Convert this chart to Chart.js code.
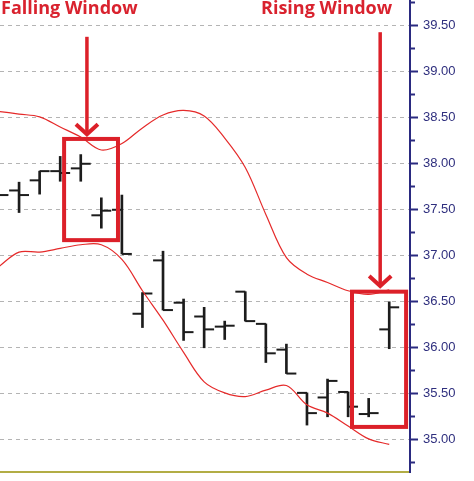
<!DOCTYPE html>
<html>
<head>
<meta charset="utf-8">
<script src="https://cdn.jsdelivr.net/npm/chart.js@4/dist/chart.umd.min.js"></script>
<style>
    body { margin: 0; background: #fff; }
    .wrap { position: relative; width: 474px; height: 481px; }
    .note {
        position: absolute;
        top: -5px;
        font-family: 'Open Sans', sans-serif;
        font-weight: bold;
        font-size: 18px;
        color: #d9222e;
        white-space: nowrap;
    }
</style>
</head>
<body>
<div class="wrap">
    <canvas id="ohlcChart"></canvas>
    <div class="note" style="left:1px">Falling Window</div>
    <div class="note" style="left:261px">Rising Window</div>
</div>
<script>
// price bars (one per session, first one is cut off by the left edge)
const opens  = [37.72, 37.71, 37.82, 37.92, 37.95, 37.44, 37.50, 36.37, 36.95, 36.49, 36.34, 36.23, 36.61, 36.26, 35.98, 35.51, 35.46, 35.52, 35.28, 36.20]
const highs  = [37.78, 37.80, 37.92, 38.08, 38.10, 37.63, 37.66, 36.60, 37.05, 36.53, 36.44, 36.29, 36.61, 36.26, 36.04, 35.51, 35.66, 35.52, 35.45, 36.50]
const lows   = [37.58, 37.47, 37.67, 37.81, 37.81, 37.30, 37.02, 36.22, 36.41, 36.08, 36.00, 36.09, 36.29, 35.84, 35.72, 35.16, 35.25, 35.25, 35.25, 35.99]
const closes = [37.66, 37.66, 37.92, 37.90, 38.00, 37.49, 37.02, 36.59, 36.41, 36.17, 36.20, 36.24, 36.29, 35.94, 35.72, 35.29, 35.64, 35.36, 35.29, 36.44]

// bollinger bands
const upperBand = [38.57, 38.54, 38.51, 38.40, 38.29, 38.15, 38.22, 38.39, 38.53, 38.58, 38.52, 38.28, 37.96, 37.45, 36.98, 36.80, 36.71, 36.62, 36.58, 36.63]
const lowerBand = [36.88, 37.04, 37.04, 37.08, 37.12, 37.12, 36.96, 36.62, 36.30, 35.95, 35.63, 35.51, 35.47, 35.54, 35.59, 35.38, 35.29, 35.15, 35.01, 34.95]

// y axis
const yMin = 34.65
const yMax = 39.78
const labelStep = 0.5

const red = '#dc2029'
const barColor = '#1c1c1c'
const tickOffset = 0.24

// boxes and arrows, in bar index / price units
const windows = [
    { x0: 3.19, x1: 5.81, y0: 38.27, y1: 37.17, ax: 4.30, aTop: 39.38, aTip: 38.31 },
    { x0: 17.19, x1: 19.82, y0: 36.61, y1: 35.14, ax: 18.56, aTop: 39.43, aTip: 36.66 },
]

const idx = opens.map((v, i) => i)
const isLabel = (v) => Math.abs(v / labelStep - Math.round(v / labelStep)) < 0.001

const windowPlugin = {
    id: 'windows',
    afterDatasetsDraw(chart) {
        const { ctx, scales: { x, y } } = chart
        ctx.save()
        ctx.strokeStyle = red
        windows.forEach((w) => {
            const l = x.getPixelForValue(w.x0)
            const r = x.getPixelForValue(w.x1)
            const t = y.getPixelForValue(w.y0)
            const b = y.getPixelForValue(w.y1)
            ctx.lineWidth = 4
            ctx.strokeRect(l, t, r - l, b - t)

            const ax = x.getPixelForValue(w.ax)
            const top = y.getPixelForValue(w.aTop)
            const tip = y.getPixelForValue(w.aTip)
            ctx.lineWidth = 3.5
            ctx.beginPath()
            ctx.moveTo(ax, top)
            ctx.lineTo(ax, tip - 2)
            ctx.stroke()
            ctx.lineWidth = 4
            ctx.beginPath()
            ctx.moveTo(ax - 11, tip - 11)
            ctx.lineTo(ax, tip - 1)
            ctx.lineTo(ax + 11, tip - 11)
            ctx.stroke()
        })
        ctx.restore()
    },
}

new Chart(document.getElementById('ohlcChart'), {
    type: 'bar',
    data: {
        datasets: [
            {
                type: 'line',
                data: idx.map((i) => ({ x: i, y: upperBand[i] })),
                borderColor: '#e52a2a',
                borderWidth: 1.2,
                pointRadius: 0,
                tension: 0.35,
                order: 0,
            },
            {
                type: 'line',
                data: idx.map((i) => ({ x: i, y: lowerBand[i] })),
                borderColor: '#e52a2a',
                borderWidth: 1.2,
                pointRadius: 0,
                tension: 0.35,
                order: 0,
            },
            {
                type: 'bar',
                data: idx.map((i) => ({ x: i, y: [lows[i], highs[i]] })),
                backgroundColor: barColor,
                barThickness: 2,
                order: 1,
            },
            {
                type: 'scatter',
                data: idx.map((i) => ({ x: i - tickOffset, y: opens[i] })),
                pointStyle: 'line',
                pointRadius: 5,
                borderColor: barColor,
                borderWidth: 2,
                order: 1,
            },
            {
                type: 'scatter',
                data: idx.map((i) => ({ x: i + tickOffset, y: closes[i] })),
                pointStyle: 'line',
                pointRadius: 5,
                borderColor: barColor,
                borderWidth: 2,
                order: 1,
            },
        ],
    },
    options: {
        responsive: true,
        maintainAspectRatio: false,
        animation: false,
        layout: { padding: 0, autoPadding: false },
        plugins: {
            legend: { display: false },
            tooltip: { enabled: false },
        },
        scales: {
            x: {
                type: 'linear',
                min: 0.073,
                max: 20.01,
                offset: false,
                ticks: { display: false },
                grid: { drawOnChartArea: false, drawTicks: false },
                border: { color: '#b2ad45', width: 2 },
                afterFit: (scale) => {
                    scale.height = 9
                    scale.paddingLeft = 0
                    scale.paddingRight = 0
                },
            },
            y: {
                position: 'right',
                min: yMin,
                max: yMax,
                ticks: {
                    stepSize: 0.25,
                    includeBounds: false,
                    autoSkip: false,
                    padding: 5,
                    color: '#2f2f7e',
                    font: { family: 'Arial, "Liberation Sans"', size: 13 },
                    callback: (v) => (isLabel(v) ? v.toFixed(2) : ''),
                },
                grid: {
                    color: (c) => (isLabel(c.tick.value) ? '#b4b4b4' : 'transparent'),
                    tickColor: '#2a2a80',
                    tickLength: 8,
                    tickWidth: 2,
                    tickBorderDash: (c) => (isLabel(c.tick.value) ? [] : [4, 30]),
                },
                border: { color: '#2a2a80', width: 2, dash: [4, 4] },
                afterFit: (scale) => {
                    scale.width = 64
                    scale.paddingTop = 0
                    scale.paddingBottom = 0
                },
            },
        },
    },
    plugins: [windowPlugin],
})
</script>
</body>
</html>
